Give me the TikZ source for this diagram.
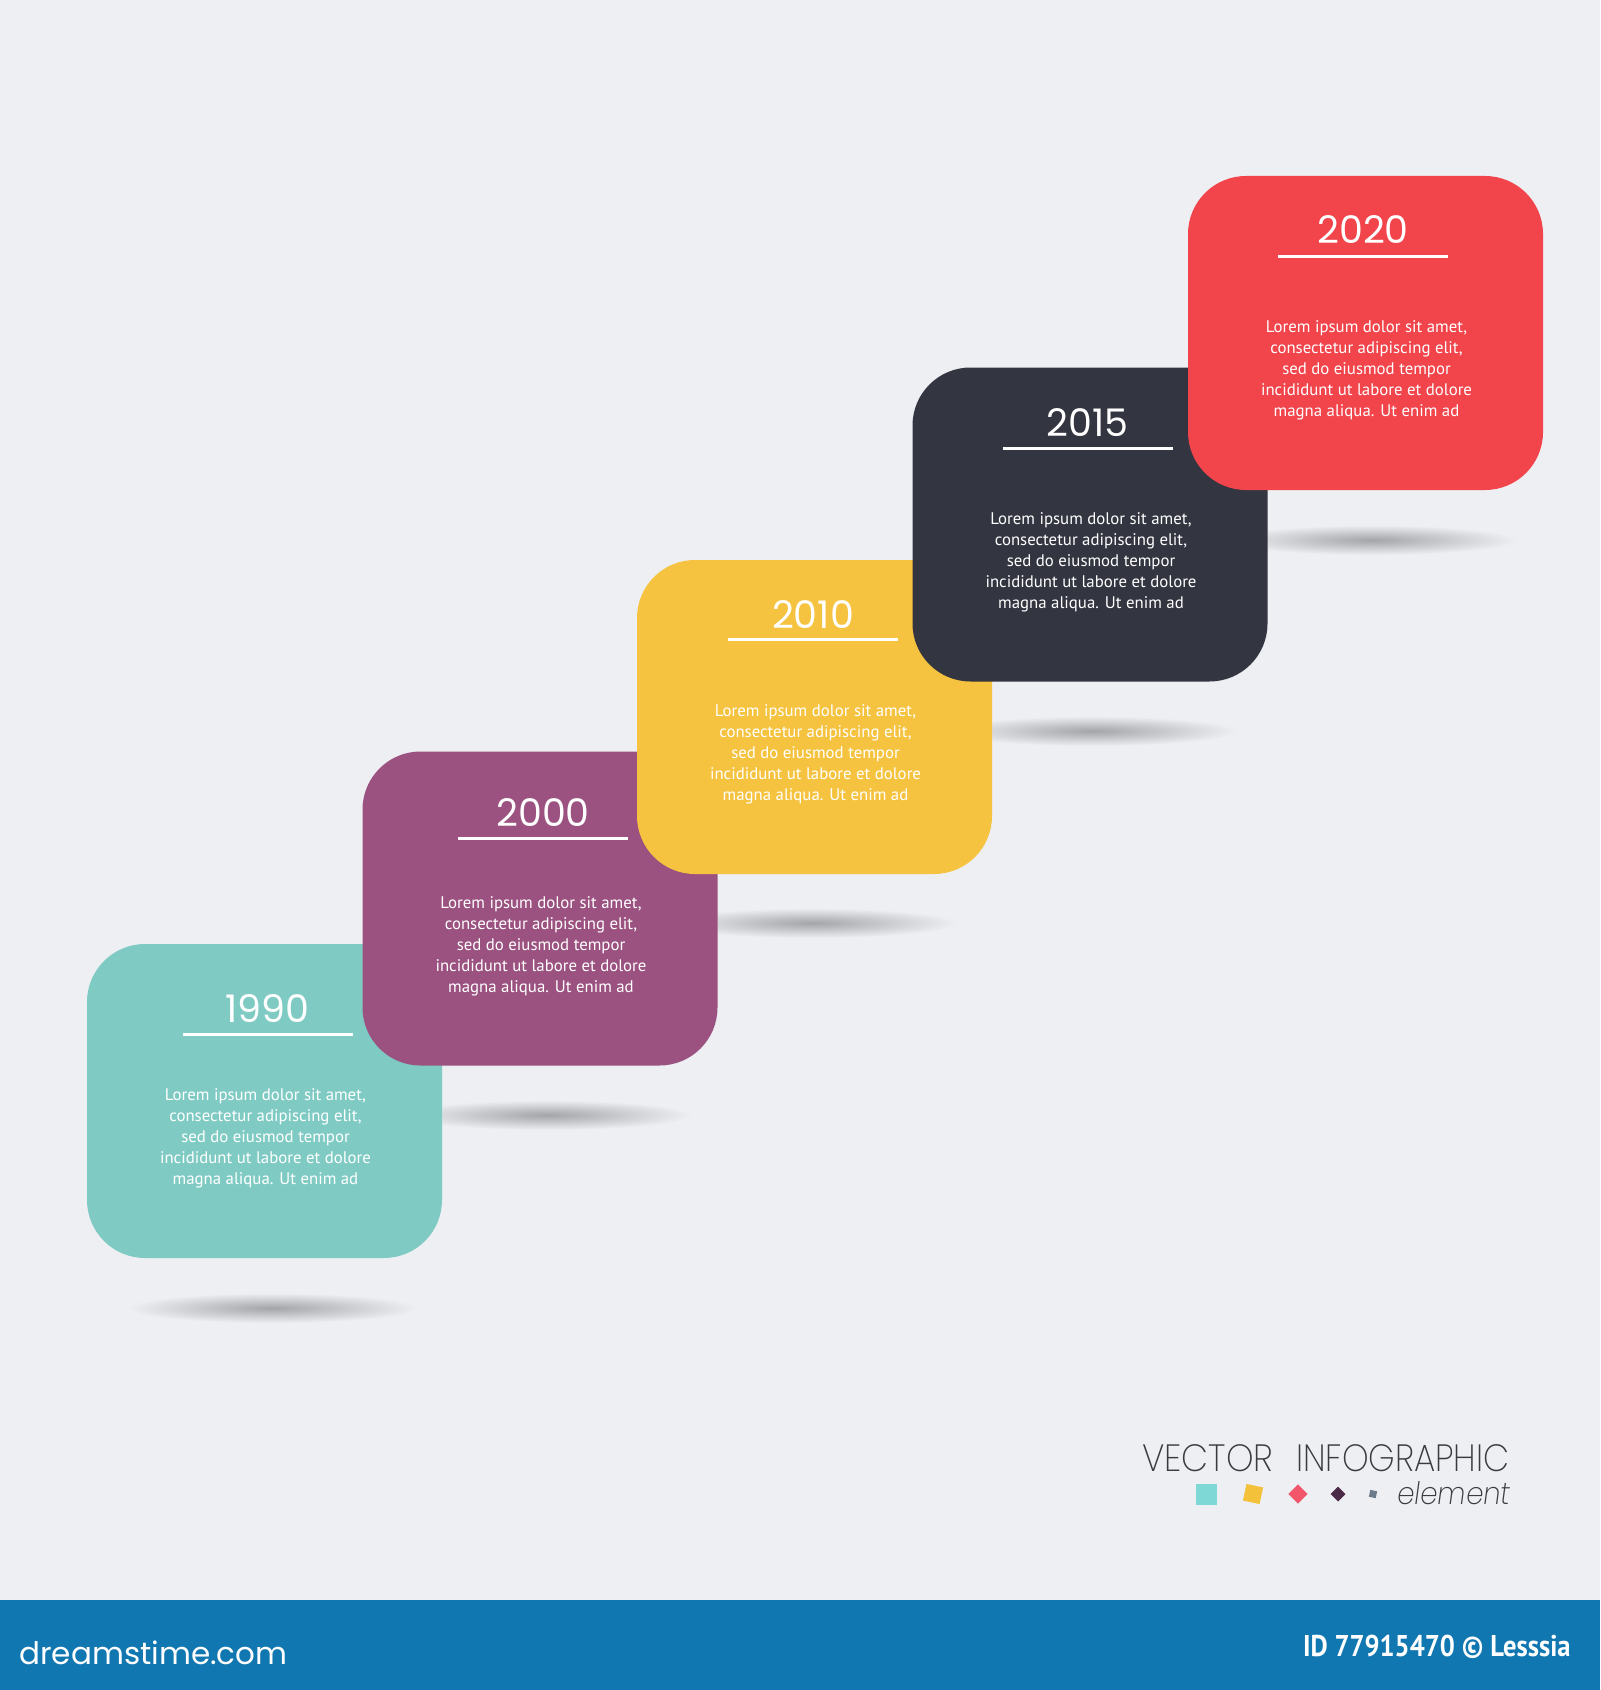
\documentclass[tikz,border=0pt]{standalone}
\usepackage{fontspec}
\usepackage{graphicx}
\usetikzlibrary{calc}
\setmainfont{PT Sans}
\newfontfamily\yearfont{Poppins}
\IfFontExistsTF{Poppins ExtraLight}{%
  \newfontfamily\thinfont{Poppins ExtraLight}%
  \newfontfamily\thinslfont{Poppins ExtraLight}[FakeSlant=0.15]%
}{%
  \IfFontExistsTF{DejaVu Sans ExtraLight}{%
    \newfontfamily\thinfont{DejaVu Sans ExtraLight}%
    \newfontfamily\thinslfont{DejaVu Sans ExtraLight}[FakeSlant=0.15]%
  }{%
    \newfontfamily\thinfont{Poppins}%
    \newfontfamily\thinslfont{Poppins}[FakeSlant=0.15]%
  }%
}
\definecolor{bg}{HTML}{EEEFF3}
\definecolor{cteal}{HTML}{7FCBC4}
\definecolor{cpurple}{HTML}{9B5280}
\definecolor{cyellow}{HTML}{F5C33F}
\definecolor{cdark}{HTML}{333541}
\definecolor{cred}{HTML}{F1444B}
\definecolor{barblue}{HTML}{1177B0}
\definecolor{shadowc}{HTML}{A4A5A9}
\definecolor{vtext}{HTML}{3A3A40}
\definecolor{sqteal}{HTML}{7DD8D6}
\definecolor{sqyellow}{HTML}{F3C13A}
\definecolor{sqpink}{HTML}{F2566B}
\definecolor{sqdark}{HTML}{4B2A47}
\definecolor{sqgray}{HTML}{6C7B89}
\begin{document}
\begin{tikzpicture}[x=0.5pt,y=-0.5pt,
  tlbox/.style={rounded corners=29pt, minimum width=177.5pt, minimum height=157pt, inner sep=0pt, draw=none},
  yeartext/.style={text=white, font=\yearfont\fontsize{19}{19}\selectfont, inner sep=0pt},
  yearline/.style={white, line width=1.4pt},
  bodytext/.style={text=white, align=center, inner sep=0pt, font=\fontsize{8.4}{10.5}\selectfont},
  chip/.style={minimum size=#1, inner sep=0pt, draw=none}]
\useasboundingbox (0,0) rectangle (1600,1690);
\fill[bg] (0,0) rectangle (1600,1600);
% shadows
\foreach \cx/\by in {272/1258, 547/1065, 812/873, 1092/681, 1372/490}{
  \shade[inner color=shadowc, outer color=bg] (\cx,\by+50) ellipse (145 and 15);
}
% boxes
\foreach \nm/\col/\cx/\cy/\xo/\yo/\uo in {1990/cteal/264.5/1101/3/65/91, 2000/cpurple/540/908.5/3/61/87, 2010/cyellow/814.5/717/-1.5/55/80, 2015/cdark/1090/524.5/-2.5/55/81, 2020/cred/1365.5/333/-2.5/54/81}{
  \node[tlbox, fill=\col] (b\nm) at (\cx,\cy) {};
  \node[yeartext] (y\nm) at ($(b\nm.north)+(\xo,\yo)$) {\nm};
  \coordinate (ul\nm) at ($(b\nm.north)+(\xo-85,\uo)$);
  \coordinate (ur\nm) at ($(b\nm.north)+(\xo+85,\uo)$);
  \draw[yearline] (ul\nm) -- (ur\nm);
  \node[bodytext] (t\nm) at ($(b\nm.north)+(1,195)$) {Lorem ipsum dolor sit amet,\\consectetur adipiscing elit,\\sed do eiusmod tempor\\incididunt ut labore et dolore\\magna aliqua. Ut enim ad};
}
% caption
\node[anchor=base west, inner sep=0pt, text=vtext, font=\thinfont\fontsize{19}{19}\selectfont] (vec) at (1142,1471) {\scalebox{0.92}[1]{VECTOR}};
\node[anchor=base east, inner sep=0pt, text=vtext, font=\thinfont\fontsize{19}{19}\selectfont] (info) at (1510,1471) {\scalebox{0.89}[1]{INFOGRAPHIC}};
\node[anchor=base east, inner sep=0pt, text=vtext, font=\thinslfont\fontsize{15.5}{15.5}\selectfont] (elem) at (1510,1504) {\scalebox{0.9}[1]{element}};
\node[chip=10.5pt, fill=sqteal] (c1) at (1206,1494) {};
\node[chip=8.5pt, fill=sqyellow, rotate=-12] (c2) at (1253,1494) {};
\node[chip=6.8pt, fill=sqpink, rotate=45] (c3) at (1298,1494) {};
\node[chip=5.3pt, fill=sqdark, rotate=45] (c4) at (1338,1494) {};
\node[chip=3.5pt, fill=sqgray, rotate=-12] (c5) at (1373,1494) {};
% bar
\fill[barblue] (0,1600) rectangle (1600,1690);
\node[anchor=base west, inner sep=0pt, text=white, font=\yearfont\fontsize{15.5}{15.5}\selectfont] (ds) at (19,1664) {dreamstime.com};
\node[anchor=base east, inner sep=0pt, text=white, font=\bfseries\fontsize{15}{15}\selectfont] (id) at (1571,1656) {\scalebox{0.885}[1]{ID 77915470 © Lesssia}};
\end{tikzpicture}
\end{document}
